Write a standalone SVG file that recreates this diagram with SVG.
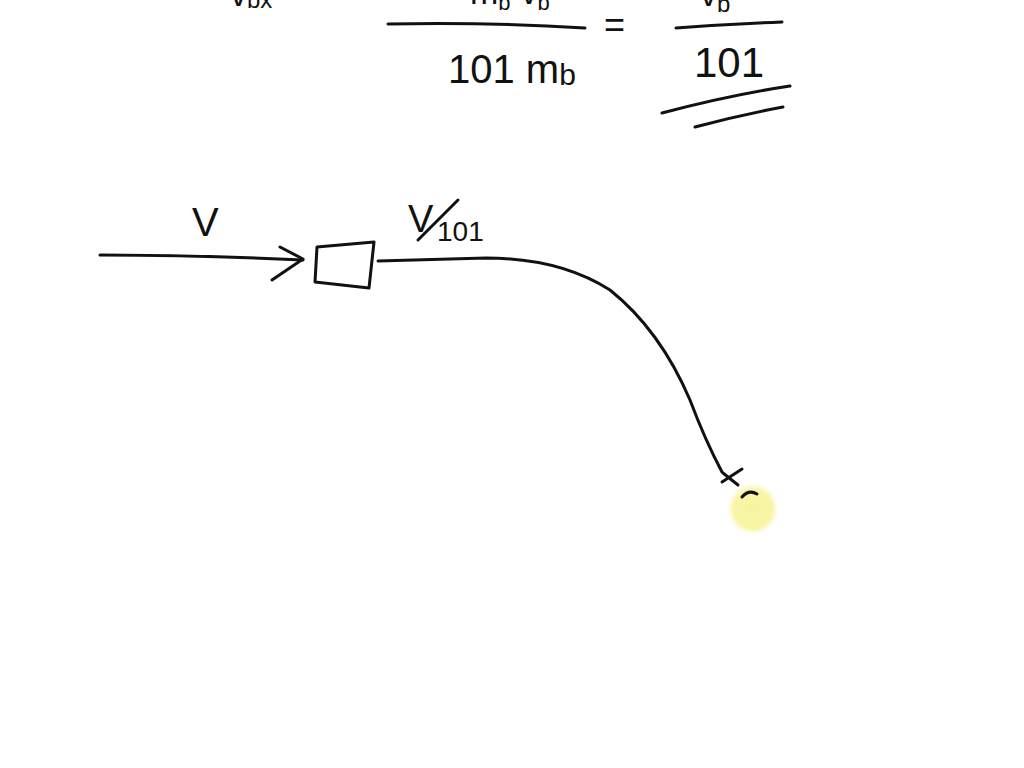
<svg xmlns="http://www.w3.org/2000/svg" width="1024" height="768" viewBox="0 0 1024 768">
<style>
.s{fill:none;stroke:#111;stroke-width:3;stroke-linecap:round;stroke-linejoin:round}
.t{font-family:"Liberation Sans",Arial,sans-serif;fill:#111}
</style>
<defs>
<radialGradient id="glow">
<stop offset="0" stop-color="#f7f4a0"/>
<stop offset="0.75" stop-color="#f8f5a6"/>
<stop offset="1" stop-color="#fbf9c8" stop-opacity="0"/>
</radialGradient>
</defs>
<rect width="1024" height="768" fill="#fff"/>
<g id="equation">
<text class="t" x="230" y="6" font-size="34">v<tspan font-size="24" dy="2">bx</tspan><tspan dx="30" dy="-2">=</tspan></text>
<text class="t" x="470" y="4" font-size="34">m<tspan font-size="22" dy="6">b</tspan><tspan dx="10" dy="-6">v</tspan><tspan font-size="22" dy="6">b</tspan></text>
<path class="s" d="M388 24 Q490 22 585 28"/>
<text class="t" x="604" y="37" font-size="36">=</text>
<path class="s" d="M676 28 Q730 24 782 22"/>
<text class="t" x="700" y="6" font-size="34">v<tspan font-size="24" dy="6">b</tspan></text>
<text class="t" x="448" y="83" font-size="40">101 m<tspan font-size="30" dy="2">b</tspan></text>
<text class="t" x="694" y="77" font-size="42">101</text>
<path class="s" d="M662 113 Q730 95 790 86"/>
<path class="s" d="M695 127 Q740 115 783 107"/>
</g>
<g id="connectors">
<path class="s" d="M100 255 Q200 255 303 260"/>
<path class="s" d="M280 247 L303 259 L272 280"/>
<path class="s" d="M378 261 L486 258 Q560 258 610 290 Q660 330 690 400 Q705 440 722 472"/>
</g>
<g id="block">
<path class="s" d="M317 247 L374 242 L369 288 L315 282 Z"/>
</g>
<g id="labels">
<text class="t" x="192" y="236" font-size="40">V</text>
<text class="t" x="408" y="232" font-size="38">V</text>
<path class="s" d="M418 240 L458 200"/>
<text class="t" x="437" y="241" font-size="28">101</text>
</g>
<g id="endpoint">
<path class="s" d="M722 482 L742 469 M723 473 L738 485"/>
<circle cx="753" cy="509" r="26" fill="url(#glow)"/>
<path class="s" d="M742 497 Q749 489 757 494" stroke-width="2.5"/>
</g>
</svg>
